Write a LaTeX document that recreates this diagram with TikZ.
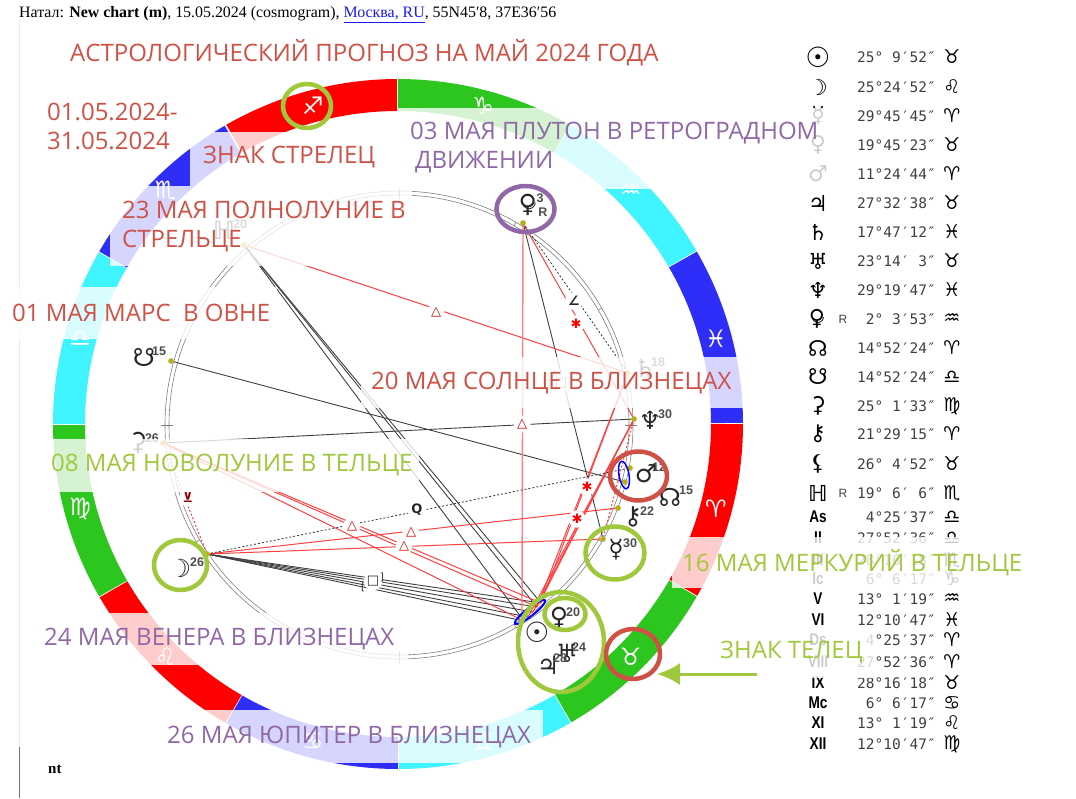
\documentclass[tikz,border=0pt]{standalone}
\usepackage{fontspec}
\usepackage{amsmath}
\usetikzlibrary{arrows.meta}
\setmainfont{Open Sans}
\newfontfamily\astro{DejaVu Sans}
\newfontfamily\lsans{Liberation Sans}
\newfontfamily\lserif{Liberation Serif}
\newfontfamily\lmono{DejaVu Sans Mono}
\definecolor{redtxt}{HTML}{CF5145}
\definecolor{plumtxt}{HTML}{9068A8}
\definecolor{limetxt}{HTML}{A0C83C}
\definecolor{signgreen}{HTML}{2DC61E}
\definecolor{signcyan}{HTML}{40F4FF}
\definecolor{signblue}{HTML}{2E2EF8}
\definecolor{dotolive}{HTML}{BDB000}
\definecolor{linkblue}{HTML}{1A1AE6}
\newcommand{\tabtxt}[1]{{\lsans\bfseries\fontsize{17}{17}\selectfont\scalebox{0.8}[1]{#1}}}
\newcommand{\plutog}{\rlap{♀}\makebox[.838em]{\raisebox{.2em}{\scalebox{.7}{◡}}}}
\newcommand{\bigsun}{{\fontsize{28}{28}\selectfont ☉}}
\begin{document}
\begin{tikzpicture}[x=1pt,y=1pt]
\tikzstyle{every node}+=[inner sep=0pt]
\tikzstyle{wash}=[fill=white,fill opacity=0.8]
\tikzstyle{lbl}=[anchor=west,align=left,font=\fontsize{24}{29}\selectfont]
\tikzstyle{chartring}=[draw=black!50,line width=0.6pt]
\tikzstyle{aspblack}=[black!75,line width=0.9pt]
\tikzstyle{aspred}=[red!75,line width=1pt]
\tikzstyle{aspdash}=[black!80,line width=0.8pt,dash pattern=on 2pt off 2pt]
\tikzstyle{asprdot}=[red!75,line width=1pt,dash pattern=on 2pt off 2pt]
\tikzstyle{planetdot}=[circle,fill=dotolive,draw=black!30,line width=0.2pt,minimum size=5.5pt]
\tikzstyle{glyph}=[font=\astro\bfseries\fontsize{25}{25}\selectfont,text=black!85]
\tikzstyle{degr}=[font=\lsans\bfseries\fontsize{12.5}{12.5}\selectfont,text=black!70]
\tikzstyle{aspmark}=[circle,fill=white,inner sep=1pt,font=\astro\bfseries\fontsize{13}{13}\selectfont]
\tikzstyle{ringring}=[line width=4.5pt]
\useasboundingbox (0,0) rectangle (1076,-798);
\draw [black!8] (19,-20) -- (19,-747);
\draw [black!55,line width=0.8pt] (19,-747) -- (19,-798);
\node [anchor=west,font=\lserif\fontsize{15.9}{16}\selectfont] (header) at (19,-15) {Натал: \textbf{New chart (m)}, 15.05.2024 (cosmogram), \textcolor{linkblue}{\underline{Москва, RU}}, 55N45′8, 37E36′56};
\node [anchor=west,font=\lserif\bfseries\fontsize{15}{15}\selectfont] (chartname) at (48,-769) {nt};
\begin{scope}[shift={(398,-424)}]
\foreach \a/\col/\sgn in {90/red/♐,60/signgreen/♑,30/signcyan/♒,0/signblue/♓,-30/red/♈,-60/signgreen/♉,-90/signcyan/♊,-120/signblue/♋,-150/red/♌,-180/signgreen/♍,-210/signcyan/♎,-240/signblue/♏}
{
\draw [\col,line width=32pt] (\a:329) arc [start angle=\a,delta angle=30,radius=329];
\draw [white,line width=1.6pt] (\a:312) -- (\a:346);
\node [font=\astro\fontsize{24}{24}\selectfont,text=white] (sign\a) at (\a+15:329) {\sgn};
}
\end{scope}
\begin{scope}[shift={(399,-425)}]
\draw [chartring] (0,0) circle (234);
\draw [chartring] (0,0) circle (230);
\foreach \a in {0,30,...,330}
{
\draw [chartring] (\a:230) -- (\a:234);
}
\foreach \a in {0,90,180,270}
{
\draw [chartring] (\a:226) -- (\a:238);
}
\end{scope}
\coordinate (pluto) at (523,-223);
\coordinate (saturn) at (628,-373);
\coordinate (neptune) at (634,-419);
\coordinate (mars) at (630,-468);
\coordinate (nnode) at (625,-482);
\coordinate (chiron) at (618,-508);
\coordinate (mercury) at (603,-539);
\coordinate (venus) at (541,-603);
\coordinate (uranus) at (537,-607);
\coordinate (lilith) at (533,-612);
\coordinate (jupiter) at (528,-617);
\coordinate (sun) at (524,-621);
\coordinate (moon) at (207,-554);
\coordinate (ceres) at (163,-443);
\coordinate (snode) at (171,-361);
\coordinate (pholus) at (244,-245);
\draw [aspblack] (snode) -- (nnode);
\draw [aspblack] (ceres) -- (neptune);
\draw [aspblack] (pluto) -- (mercury);
\draw [aspblack] (pholus) -- (venus);
\draw [aspblack] (pholus) -- (uranus);
\draw [aspblack] (pholus) -- (sun);
\draw [aspblack] (moon) -- (venus);
\draw [aspblack] (moon) -- (uranus);
\draw [aspblack] (moon) -- (lilith);
\draw [aspblack] (moon) -- (jupiter);
\draw [aspblack] (moon) -- (sun);
\draw [aspred] (pholus) -- (saturn);
\draw [red!50,line width=1.4pt] (pluto) -- (522,-612);
\draw [aspred] (pluto) -- (neptune);
\draw [aspred] (moon) -- (chiron);
\draw [aspred] (moon) -- (mercury);
\draw [aspred] (ceres) -- (venus);
\draw [aspred] (ceres) -- (uranus);
\draw [aspred] (ceres) -- (sun);
\draw [aspred] (saturn) -- (venus);
\draw [aspred] (saturn) -- (uranus);
\draw [aspred] (neptune) -- (uranus);
\draw [aspred] (neptune) -- (lilith);
\draw [aspred] (neptune) -- (jupiter);
\draw [aspdash] (pluto) -- (saturn);
\draw [aspdash] (moon) -- (mars);
\draw [asprdot] (neptune) -- (mercury);
\draw [asprdot] (ceres) -- (moon);
\node [aspmark,text=red!85!black] (trinea) at (436,-312) {△};
\node [aspmark,text=red!85!black] (trineb) at (522,-424) {△};
\node [aspmark,text=red!85!black] (trinec) at (352,-526) {△};
\node [aspmark,text=red!85!black] (trined) at (411,-532) {△};
\node [aspmark,text=red!85!black] (trinee) at (404,-546) {△};
\node [aspmark,text=red] (sexta) at (576,-324) {✱};
\node [aspmark,text=red] (sextb) at (587,-487) {✱};
\node [aspmark,text=red] (sextc) at (577,-519) {✱};
\node [aspmark,text=black!85] (semi) at (574,-301) {∠};
\node [aspmark,text=black!85] (quint) at (417,-510) {Q};
\node [aspmark,text=red!60!black] (quinc) at (188,-498) {⊻};
\node [aspmark,text=black!70] (squarea) at (561,-383) {□};
\node [aspmark,text=black!85] (squareb) at (373,-581) {□};
\node [font=\astro\fontsize{10}{10}\selectfont,text=black!85] (squarec) at (363,-587) {[};
\node [font=\astro\fontsize{10}{10}\selectfont,text=black!85] (squared) at (382,-577) {]};
\foreach \pname in {pluto,saturn,neptune,mars,nnode,chiron,mercury,moon,ceres,snode,pholus}
{
\node [planetdot] (dot\pname) at (\pname) {};
}
\draw [blue,line width=1.5pt,rotate around={-80:(624,-475)}] (624,-475) ellipse (14 and 5);
\draw [blue,line width=2pt,rotate around={38:(530,-612)}] (530,-612) ellipse (19 and 4);
\node [glyph] (plutosym) at (529,-205) {\plutog};
\node [degr] (plutodeg) at (540,-198) {3};
\node [degr] (plutoret) at (543,-212) {R};
\node [glyph] (saturnsym) at (645,-368) {♄};
\node [degr] (saturndeg) at (658,-362) {18};
\node [glyph] (neptunesym) at (650,-420) {♆};
\node [degr] (neptunedeg) at (665,-414) {30};
\node [glyph] (marssym) at (646,-474) {♂};
\node [degr] (marsdeg) at (659,-467) {12};
\node [glyph] (nnodesym) at (670,-497) {☊};
\node [degr] (nnodedeg) at (686,-490) {15};
\node [glyph] (chironsym) at (633,-517) {⚷};
\node [degr] (chirondeg) at (647,-511) {22};
\node [glyph] (mercurysym) at (616,-550) {☿};
\node [degr] (mercurydeg) at (630,-543) {30};
\node [glyph] (venussym) at (559,-618) {♀};
\node [degr] (venusdeg) at (573,-612) {20};
\node [glyph] (sunsym) at (537,-632) {\bigsun};
\node [glyph] (uranussym) at (567,-653) {♅};
\node [degr] (uranusdeg) at (579,-647) {24};
\node [glyph] (jupitersym) at (548,-665) {♃};
\node [degr] (jupiterdeg) at (560,-658) {28};
\node [glyph] (moonsym) at (180,-568) {☽};
\node [degr] (moondeg) at (197,-562) {26};
\node [glyph] (ceressym) at (138,-443) {⚳};
\node [degr] (ceresdeg) at (152,-438) {26};
\node [glyph] (snodesym) at (144,-357) {☋};
\node [degr] (snodedeg) at (159,-351) {15};
\node [glyph] (pholussym) at (224,-230) {ℍ};
\node [degr] (pholusdeg) at (240,-224) {20};
\foreach \rowy/\rowsym/\rowret/\rowval/\rowsgn [count=\i] in {57/\bigsun//25°~9′52″/♉,87/☽//25°24′52″/♌,116/☿//29°45′45″/♈,145/♀//19°45′23″/♉,174/♂//11°24′44″/♈,203/♃//27°32′38″/♉,232/♄//17°47′12″/♓,261/♅//23°14′~3″/♉,290/♆//29°19′47″/♓,319/\plutog/R/2°~3′53″/♒,348/☊//14°52′24″/♈,377/☋//14°52′24″/♎,406/⚳//25°~1′33″/♍,434/⚷//21°29′15″/♈,464/⚸//26°~4′52″/♉,493/ℍ/R/19°~6′~6″/♏,517/\tabtxt{As}//4°25′37″/♎,538/\tabtxt{II}//27°52′36″/♎,560/\tabtxt{III}//28°16′18″/♏,579/\tabtxt{Ic}//6°~6′17″/♑,599/\tabtxt{V}//13°~1′19″/♒,620/\tabtxt{VI}//12°10′47″/♓,640/\tabtxt{Ds}//4°25′37″/♈,662/\tabtxt{VIII}//27°52′36″/♈,683/\tabtxt{IX}//28°16′18″/♉,703/\tabtxt{Mc}//6°~6′17″/♋,723/\tabtxt{XI}//13°~1′19″/♌,744/\tabtxt{XII}//12°10′47″/♍}
{
\node [font=\astro\bfseries\fontsize{22}{22}\selectfont] (rowsym\i) at (818,-\rowy) {\rowsym};
\node [font=\lsans\fontsize{12}{12}\selectfont,text=black!75] (rowret\i) at (843,-\rowy) {\rowret};
\node [anchor=east,font=\lmono\fontsize{14.5}{15}\selectfont,text=black!75] (rowval\i) at (936,-\rowy) {\rowval};
\node [font=\astro\bfseries\fontsize{19}{19}\selectfont] (rowsgn\i) at (952,-\rowy) {\rowsgn};
}
\fill [wash] (47,-95) rectangle (175,-155);
\fill [wash] (190,-132) rectangle (390,-186);
\fill [wash] (110,-186) rectangle (412,-266);
\fill [wash] (2,-287) rectangle (277,-339);
\fill [wash] (398,-108) rectangle (830,-189);
\fill [wash] (361,-357) rectangle (743,-408);
\fill [wash] (41,-439) rectangle (419,-492);
\fill [wash] (672,-537) rectangle (1030,-588);
\fill [wash] (710,-626) rectangle (875,-678);
\fill [wash] (34,-613) rectangle (408,-665);
\fill [wash] (157,-710) rectangle (543,-763);
\node [lbl,text=redtxt] (titleline) at (70,-53) {АСТРОЛОГИЧЕСКИЙ ПРОГНОЗ НА МАЙ 2024 ГОДА};
\node [lbl,text=redtxt] (dateline) at (47,-126) {01.05.2024-\\31.05.2024};
\node [lbl,text=redtxt] (sagline) at (203,-157) {ЗНАК СТРЕЛЕЦ};
\node [lbl,text=redtxt] (fullmoonline) at (122,-227) {23 МАЯ ПОЛНОЛУНИЕ В\\СТРЕЛЬЦЕ};
\node [lbl,text=redtxt] (marsline) at (12,-313) {01 МАЯ МАРС~~В ОВНЕ};
\node [lbl,text=plumtxt] (plutoline) at (410,-148) {03 МАЯ ПЛУТОН В РЕТРОГРАДНОМ\\\hspace*{5pt}ДВИЖЕНИИ};
\node [lbl,text=redtxt] (sunline) at (371,-383) {20 МАЯ СОЛНЦЕ В БЛИЗНЕЦАХ};
\node [lbl,text=limetxt] (newmoonline) at (51,-465) {08 МАЯ НОВОЛУНИЕ В ТЕЛЬЦЕ};
\node [lbl,text=limetxt] (mercuryline) at (682,-563) {16 МАЯ МЕРКУРИЙ В ТЕЛЬЦЕ};
\node [lbl,text=limetxt] (taurusline) at (720,-652) {ЗНАК ТЕЛЕЦ};
\node [lbl,text=plumtxt] (venusline) at (44,-639) {24 МАЯ ВЕНЕРА В БЛИЗНЕЦАХ};
\node [lbl,text=plumtxt] (jupiterline) at (167,-737) {26 МАЯ ЮПИТЕР В БЛИЗНЕЦАХ};
\draw [ringring,draw=limetxt] (307,-106) ellipse (24 and 22);
\draw [ringring,draw=plumtxt] (525.5,-209) ellipse (29 and 23);
\draw [ringring,draw=redtxt] (638.5,-476) ellipse (28.5 and 24.5);
\draw [ringring,draw=limetxt] (615,-553) ellipse (29.5 and 26.5);
\draw [ringring,draw=limetxt] (565,-614) ellipse (20.5 and 16);
\draw [ringring,draw=limetxt] (561,-642) ellipse (43 and 50);
\draw [ringring,draw=redtxt] (633,-654) ellipse (27 and 25);
\draw [ringring,draw=limetxt] (180.5,-565) ellipse (26.5 and 25);
\coordinate (arrowtail) at (757,-674);
\coordinate (arrowtip) at (657,-674);
\draw [-{Latex[length=23pt,width=22pt]},limetxt,line width=3pt] (arrowtail) -- (arrowtip);
\end{tikzpicture}
\end{document}
